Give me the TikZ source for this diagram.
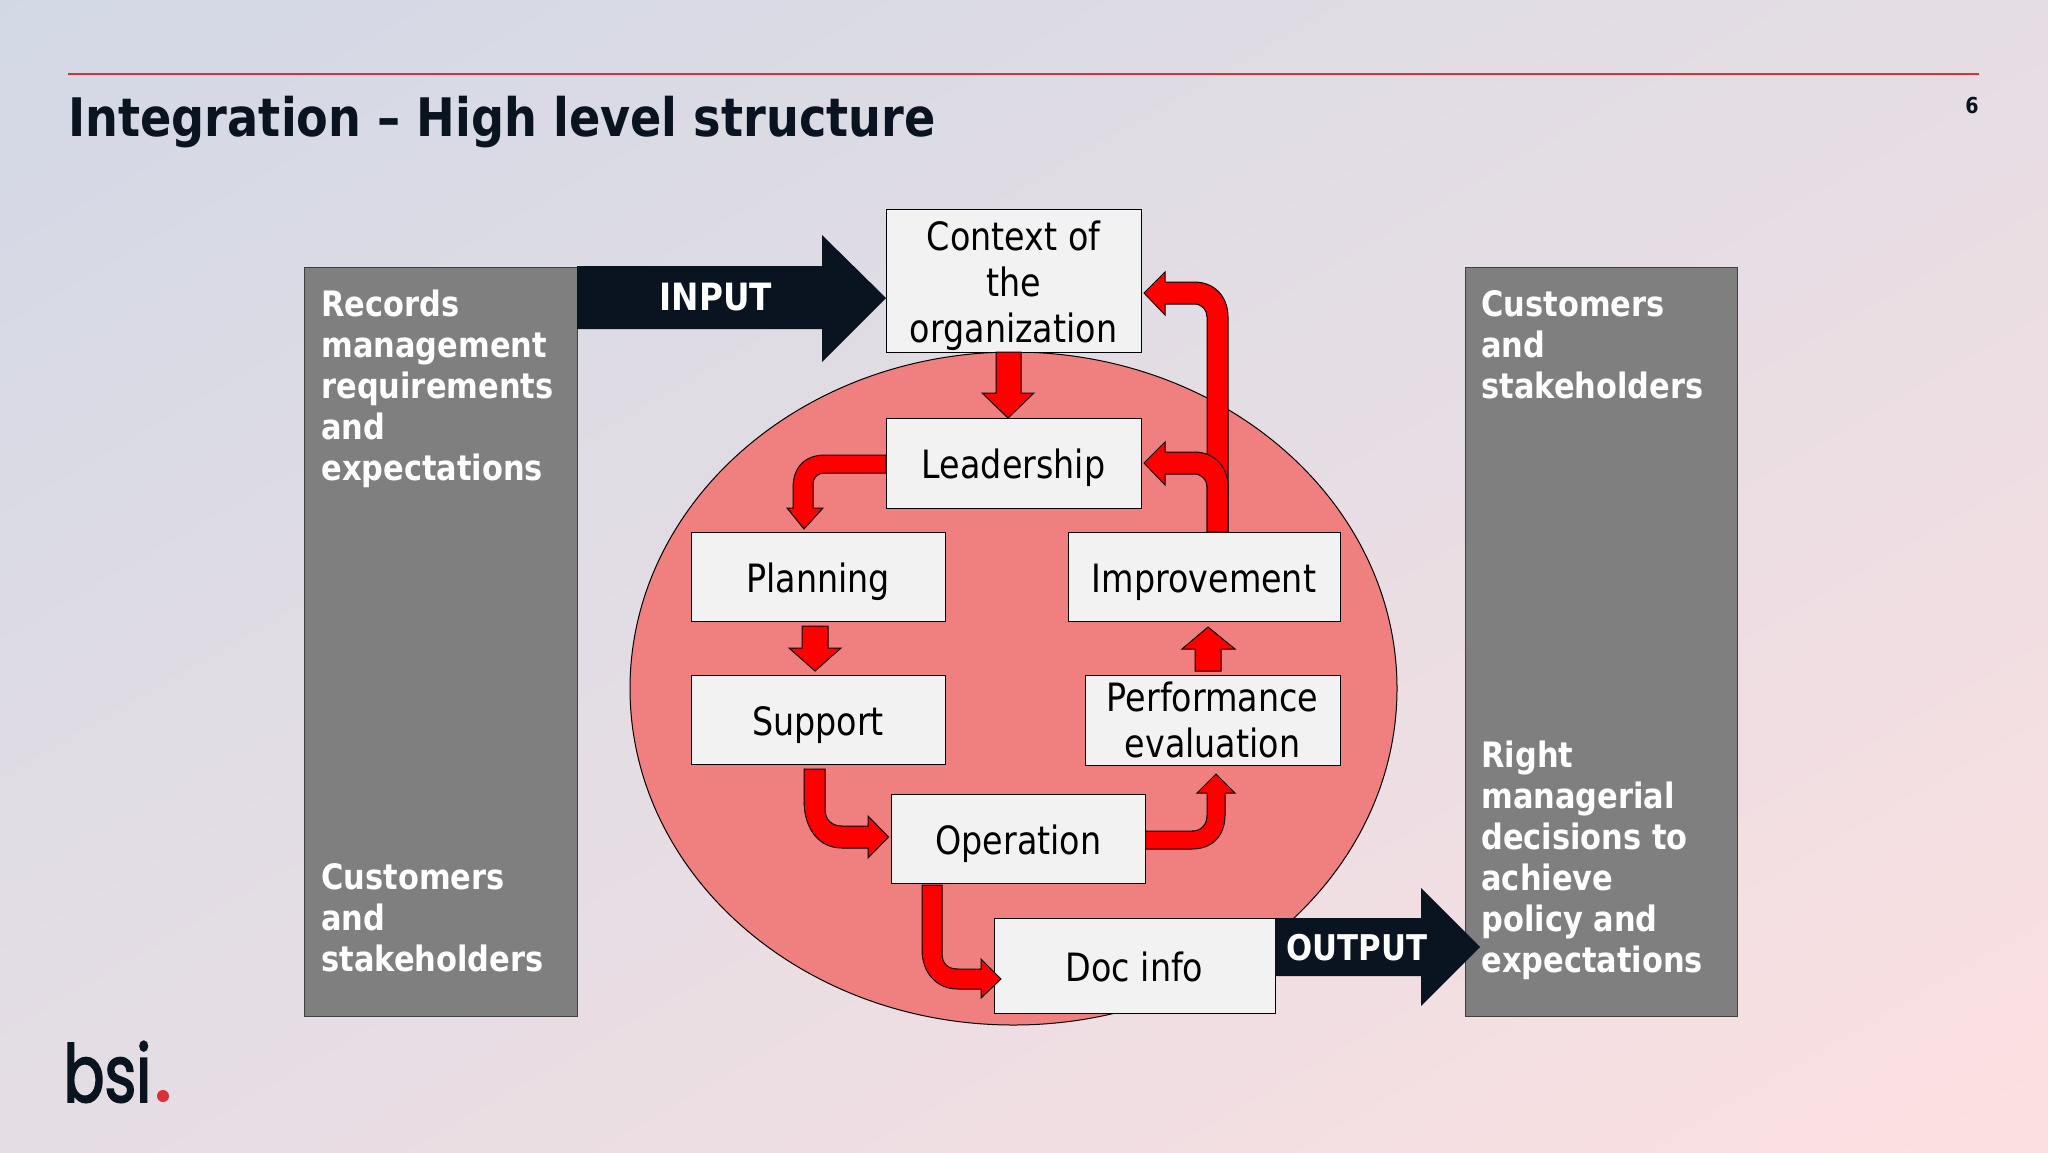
\documentclass[tikz,border=0pt]{standalone}
\usepackage{fontspec}
\setmainfont{DejaVu Sans}[FakeStretch=0.855,BoldFeatures={FakeStretch=0.87}]
\newfontfamily\logofont{Poppins}[FakeStretch=0.76,FakeBold=2]
\usetikzlibrary{shapes.geometric,calc}
\definecolor{navy}{HTML}{0A1420}
\definecolor{coral}{HTML}{F08080}
\definecolor{boxgrey}{HTML}{F2F2F2}
\definecolor{panelgrey}{HTML}{7F7F7F}
\definecolor{topline}{HTML}{DC3038}
\definecolor{bgA}{HTML}{D0D8E5}
\definecolor{bgB}{HTML}{FFE0E0}
\definecolor{bgM}{HTML}{E5DDE4}
\newcommand\lowered{\rule{0pt}{20pt}}
\tikzset{
 stepbox/.style={draw=black,line width=.5pt,fill=boxgrey,inner sep=0pt,outer sep=0pt,align=center,font=\fontsize{19.5}{23}\selectfont,text=black},
 panel/.style={draw=black!75,line width=.5pt,fill=panelgrey,inner sep=0pt,outer sep=0pt},
 paneltext/.style={text=white,anchor=north west,align=left,inner sep=0pt,font=\fontsize{17.5}{20.5}\selectfont\bfseries},
 redarrow/.style={draw=black,line width=.5pt,fill=red,line join=miter},
 darkarrow/.style={fill=navy,draw=none},
 arrowlabel/.style={text=white,inner sep=0pt,font=\fontsize{17.7}{20}\selectfont\bfseries},
}
\begin{document}
\begin{tikzpicture}[x=0.5pt,y=-0.5pt]
\useasboundingbox (0,0) rectangle (2048,1152);
\shade[left color=bgA,right color=bgB,middle color=bgM,shading angle=30] (-400,-400) rectangle (2448,1552);
% header
\coordinate (ruleL) at (68,74);
\coordinate (ruleR) at (1979,74);
\draw[topline,line width=1pt] (ruleL) -- (ruleR);
\node[anchor=base west,inner sep=0pt,text=navy,font=\fontsize{26.55}{30}\selectfont\bfseries] (title) at (68,136) {Integration – High level structure};
\node[text=navy,inner sep=0pt,font=\fontsize{11}{13}\selectfont\bfseries] (pageno) at (1972,105) {6};
% logo
\node[anchor=base west,inner sep=0pt,text=navy,font=\fontsize{40}{46}\logofont\selectfont] (logo) at (63,1102) {bsi};
\fill[topline] (163,1096) circle[radius=6] ;
% ellipse
\node[ellipse,draw=black,line width=.5pt,fill=coral,minimum width=383.5pt,minimum height=336.5pt,inner sep=0pt] (cycle) at (1013.5,688.5) {};
% panels
\node[panel,minimum width=136.5pt,minimum height=374.5pt] (left) at (440.5,641.5) {};
\node[panel,minimum width=136pt,minimum height=374.5pt] (right) at (1601.5,641.5) {};
\node[paneltext] (ltA) at (321,289) {Records\\management\\requirements\\and\\expectations};
\node[paneltext] (ltB) at (321,863) {Customers\\and\\stakeholders};
\node[paneltext] (rtA) at (1481,290) {Customers\\and\\stakeholders};
\node[paneltext] (rtB) at (1481,740) {Right\\managerial\\decisions to\\achieve\\policy and\\expectations};
% boxes
\node[stepbox,minimum width=127.5pt,minimum height=71.5pt] (ctx) at (1013.5,280.5) {\lowered Context of\\the\\organization};
\node[stepbox,minimum width=127.5pt,minimum height=45pt] (lead) at (1013.5,463) {\lowered Leadership};
\node[stepbox,minimum width=127pt,minimum height=44.5pt] (plan) at (818,576.5) {\lowered Planning};
\node[stepbox,minimum width=127pt,minimum height=44.5pt] (supp) at (818,719.5) {\lowered Support};
\node[stepbox,minimum width=136pt,minimum height=44.5pt] (impr) at (1204,576.5) {\lowered Improvement};
\node[stepbox,minimum width=127.5pt,minimum height=45pt] (perf) at (1212.5,720) {Performance\\evaluation};
\node[stepbox,minimum width=127pt,minimum height=44.5pt] (oper) at (1018.5,838.5) {\lowered Operation};
\node[stepbox,minimum width=140.5pt,minimum height=47.5pt] (doc) at (1134.5,965.5) {\rule{0pt}{16pt}Doc info};
% dark arrows
\path[darkarrow] (left.east |- 0,266) -- (822,266) -- (822,235) -- (ctx.west |- 0,298) -- (822,362) -- (822,329) -- (left.east |- 0,329) -- cycle;
\node[arrowlabel,font=\fontsize{18.8}{20}\selectfont\bfseries] (inlab) at (716,297) {INPUT};
\path[darkarrow] (doc.east |- 0,918) -- (1421,918) -- (1421,888) -- (1480,947) -- (1421,1006) -- (1421,976) -- (doc.east |- 0,976) -- cycle;
\node[arrowlabel] (outlab) at (1357,948) {OUTPUT};
% red arrows
\draw[redarrow] (996,0 |- ctx.south) -- (996,393) -- (982,393) -- (1008,0 |- lead.north) -- (1034,393) -- (1021,393) -- (1021,0 |- ctx.south) -- cycle;
\draw[redarrow] (1228,0 |- impr.north) -- (1228,317) .. controls (1228,296) and (1214,282) .. (1194,282) -- (1165,282) -- (1165,272) -- (1144,293) -- (1165,315) -- (1165,304) -- (1194,304) .. controls (1202,304) and (1207,310) .. (1207,317) -- (1207,0 |- impr.north) -- cycle;
\draw[redarrow] (1228,0 |- impr.north) -- (1228,487) .. controls (1228,466) and (1214,452) .. (1194,452) -- (1165,452) -- (1165,442) -- (1144,463) -- (1165,485) -- (1165,474) -- (1194,474) .. controls (1202,474) and (1207,480) .. (1207,487) -- (1207,0 |- impr.north) -- cycle;
\draw[redarrow] (lead.west |- 0,455) -- (825,455) .. controls (806,455) and (793,466) .. (793,488) -- (793,508) -- (787,508) -- ([yshift=1.5pt]804,0 |- plan.north) -- (823,508) -- (813,508) -- (813,484) .. controls (813,477) and (818,473) .. (825,473) -- (lead.west |- 0,473) -- cycle;
\draw[redarrow] (802,626) -- (802,648) -- (789,648) -- ([yshift=2pt]815,0 |- supp.north) -- (841,648) -- (828,648) -- (828,626) -- cycle;
\draw[redarrow] (1195,671) -- (1195,649) -- (1182,649) -- ([yshift=-3pt]1208,0 |- impr.south) -- (1235,649) -- (1221,649) -- (1221,671) -- cycle;
\draw[redarrow] (804,769) -- (804,800) .. controls (804,828) and (818,848) .. (842,848) -- (868,848) -- (868,858) -- ([xshift=-1.5pt]oper.west |- 0,837) -- (868,816) -- (868,826) -- (842,826) .. controls (832,826) and (825,820) .. (825,809) -- (825,769) -- cycle;
\draw[redarrow] (oper.east |- 0,849) -- (1192,849) .. controls (1212,849) and (1225,836) .. (1225,815) -- (1225,793) -- (1235,793) -- (1216,774) -- (1197,793) -- (1207,793) -- (1207,815) .. controls (1207,825) and (1201,831) .. (1192,831) -- (oper.east |- 0,831) -- cycle;
\draw[redarrow] (922,885) -- (922,950) .. controls (922,972) and (936,989) .. (958,989) -- (981,989) -- (981,998) -- (1001,979) -- (981,959) -- (981,969) -- (958,969) .. controls (948,969) and (942,964) .. (942,953) -- (942,885) -- cycle;
\end{tikzpicture}
\end{document}
